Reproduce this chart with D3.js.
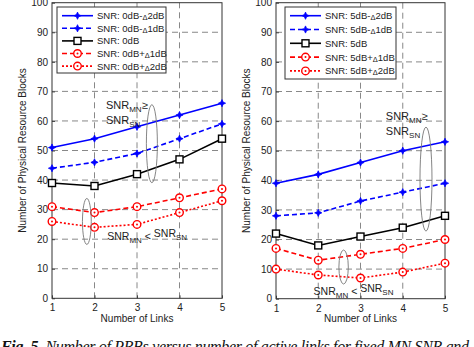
<!DOCTYPE html>
<html>
<head>
<meta charset="utf-8">
<script src="https://cdn.jsdelivr.net/npm/d3@7"></script>
<style>
  body { margin: 0; background: #fff; }
  svg { display: block; font-family: "Liberation Sans", Arial, sans-serif; }
</style>
</head>
<body>
<svg id="fig" width="474" height="347"></svg>
<script>
// number of links on the x axis
var links = [1, 2, 3, 4, 5];
var yTicks = [0, 10, 20, 30, 40, 50, 60, 70, 80, 90, 100];

// left panel: MN SNR fixed at 0 dB
var left_m2 = [51, 54, 58, 62, 66];
var left_m1 = [44, 46, 49, 54, 59];
var left_0  = [39, 38, 42, 47, 54];
var left_p1 = [31, 29, 31, 34, 37];
var left_p2 = [26, 24, 25, 29, 33];

// right panel: MN SNR fixed at 5 dB
var right_m2 = [39, 42, 46, 50, 53];
var right_m1 = [28, 29, 33, 36, 39];
var right_0  = [22, 18, 21, 24, 28];
var right_p1 = [17, 13, 15, 17, 20];
var right_p2 = [10, 8, 7, 9, 12];

var leftNames  = ["0dB-|2dB", "0dB-|1dB", "0dB", "0dB+|1dB", "0dB+|2dB"];
var rightNames = ["5dB-|2dB", "5dB-|1dB", "5dB", "5dB+|1dB", "5dB+|2dB"];

var styles = [
  { color: "#0000ff", dash: null,  marker: "star" },
  { color: "#0000ff", dash: "5,3", marker: "star" },
  { color: "#000000", dash: null,  marker: "square" },
  { color: "#ff0000", dash: "5,3", marker: "circle" },
  { color: "#ff0000", dash: "2,2", marker: "circle" }
];

var svg = d3.select("#fig");

function marker(g, type, x, y, color) {
  if (type === "star") {
    g.append("path")
      .attr("d", "M0,-3.6L1.1,-1.1L3.6,0L1.1,1.1L0,3.6L-1.1,1.1L-3.6,0L-1.1,-1.1Z")
      .attr("transform", "translate(" + x + "," + y + ")")
      .attr("fill", color).attr("stroke", color).attr("stroke-width", 0.8);
  } else if (type === "square") {
    g.append("rect")
      .attr("x", x - 3.5).attr("y", y - 3.5).attr("width", 7).attr("height", 7)
      .attr("fill", "#fff").attr("stroke", color).attr("stroke-width", 1.4);
  } else {
    g.append("circle").attr("cx", x).attr("cy", y).attr("r", 3.8)
      .attr("fill", "#fff").attr("stroke", color).attr("stroke-width", 1.4);
    g.append("circle").attr("cx", x).attr("cy", y).attr("r", 1)
      .attr("fill", color);
  }
}

// "SNR" with a subscript, optionally followed by another piece of text
function snrLabel(t, sub, after) {
  t.append("tspan").text("SNR");
  t.append("tspan").attr("dy", 3).attr("font-size", 8).text(sub);
  if (after) t.append("tspan").attr("dy", -3).text(after);
}

function drawPanel(cfg) {
  var g = svg.append("g");
  var x = d3.scaleLinear().domain([1, 5]).range([cfg.x0, cfg.x1]);
  var y = d3.scaleLinear().domain([0, 100]).range([cfg.yb, 2.7]);

  // grid
  g.selectAll(".gx").data(links.slice(1, -1)).enter().append("line")
    .attr("x1", d => x(d)).attr("x2", d => x(d))
    .attr("y1", y(0)).attr("y2", y(100))
    .attr("stroke", "#7a7a7a").attr("stroke-width", 0.9).attr("stroke-dasharray", "6,4");
  g.selectAll(".gy").data(yTicks.slice(1, -1)).enter().append("line")
    .attr("x1", x(1)).attr("x2", x(5))
    .attr("y1", d => y(d)).attr("y2", d => y(d))
    .attr("stroke", "#7a7a7a").attr("stroke-width", 0.9).attr("stroke-dasharray", "6,4");

  // axes with inward ticks
  g.append("g").attr("transform", "translate(0," + y(0) + ")")
    .call(d3.axisBottom(x).tickValues(links).tickSize(-3).tickPadding(6).tickFormat(d3.format("d")))
    .call(a => a.select(".domain").remove());
  g.append("g").attr("transform", "translate(" + x(1) + ",0)")
    .call(d3.axisLeft(y).tickValues(yTicks).tickSize(-3).tickPadding(4))
    .call(a => a.select(".domain").remove());
  g.selectAll(".tick text").attr("font-size", 10).attr("fill", "#222")
    .attr("font-family", "Liberation Sans, Arial, sans-serif");
  g.selectAll(".tick line").attr("stroke", "#444");

  g.append("rect")
    .attr("x", x(1)).attr("y", y(100))
    .attr("width", x(5) - x(1)).attr("height", y(0) - y(100))
    .attr("fill", "none").attr("stroke", "#333").attr("stroke-width", 1);

  // axis titles
  g.append("text").attr("x", (x(1) + x(5)) / 2).attr("y", 322)
    .attr("text-anchor", "middle").attr("font-size", 10).attr("fill", "#222")
    .text("Number of Links");
  g.append("text")
    .attr("transform", "translate(" + (cfg.x0 - 26) + "," + ((y(0) + y(100)) / 2) + ") rotate(-90)")
    .attr("text-anchor", "middle").attr("font-size", 10).attr("fill", "#222")
    .text("Number of Physical Resource Blocks");

  // series
  var line = d3.line().x((d, i) => x(links[i])).y(d => y(d));
  cfg.series.forEach(function (s, k) {
    var st = styles[k];
    g.append("path").datum(s).attr("d", line)
      .attr("fill", "none").attr("stroke", st.color).attr("stroke-width", 1.6)
      .attr("stroke-dasharray", st.dash);
    s.forEach((v, i) => marker(g, st.marker, x(links[i]), y(v), st.color));
  });

  // annotation ellipses and labels
  cfg.ellipses.forEach(function (e) {
    g.append("ellipse").attr("cx", x(e[0])).attr("cy", y(e[1]))
      .attr("rx", e[2]).attr("ry", e[3])
      .attr("fill", "none").attr("stroke", "#777").attr("stroke-width", 0.9);
  });
  var a = cfg.above;
  var t1 = g.append("text").attr("x", x(a[0])).attr("y", y(a[1])).attr("font-size", 11).attr("fill", "#222");
  snrLabel(t1, "MN", "\u2265");
  var t2 = g.append("text").attr("x", x(a[0])).attr("y", y(a[1]) + 15).attr("font-size", 11).attr("fill", "#222");
  snrLabel(t2, "SN");
  var b = cfg.below;
  var t3 = g.append("text").attr("x", x(b[0])).attr("y", y(b[1])).attr("font-size", 10.5).attr("fill", "#222");
  snrLabel(t3, "MN", " < ");
  snrLabel(t3.append("tspan").attr("dy", -3), "SN");

  // legend
  var L = cfg.legend;
  var lg = g.append("g");
  lg.append("rect").attr("x", L.x).attr("y", L.y).attr("width", L.w).attr("height", L.h)
    .attr("fill", "#fff").attr("stroke", "#333").attr("stroke-width", 1);
  cfg.names.forEach(function (n, k) {
    var st = styles[k];
    var yy = L.y + L.top + k * L.step;
    lg.append("line").attr("x1", L.x + 5).attr("x2", L.x + 36).attr("y1", yy).attr("y2", yy)
      .attr("stroke", st.color).attr("stroke-width", 1.6).attr("stroke-dasharray", st.dash);
    marker(lg, st.marker, L.x + 20.5, yy, st.color);
    var parts = n.split("|");
    var t = lg.append("text").attr("x", L.x + 40).attr("y", yy + 3.5)
      .attr("font-size", L.fs).attr("fill", "#222");
    t.append("tspan").text("SNR: " + parts[0]);
    if (parts.length > 1) {
      t.append("tspan").attr("font-size", L.fs - 2).attr("dy", 1).text("\u0394");
      t.append("tspan").attr("dy", -1).text(parts[1]);
    }
  });
}

drawPanel({
  x0: 52, x1: 222, yb: 298.3,
  series: [left_m2, left_m1, left_0, left_p1, left_p2],
  names: leftNames,
  ellipses: [[3.35, 52.3, 5.5, 39], [1.82, 26, 4.4, 23]],
  above: [2.27, 64.2],
  below: [2.3, 19.6],
  legend: { x: 57, y: 7, w: 109, h: 66, top: 8.7, step: 12.6, fs: 9.5 }
});

drawPanel({
  x0: 276, x1: 445, yb: 298.7,
  series: [right_m2, right_m1, right_0, right_p1, right_p2],
  names: rightNames,
  ellipses: [[4.55, 40.4, 6, 52], [2.6, 10.7, 4.7, 17]],
  above: [3.6, 60.4],
  below: [1.89, 1.3],
  legend: { x: 285, y: 7, w: 111, h: 72, top: 8.7, step: 13.8, fs: 9.5 }
});

// figure caption, running past the bottom edge
var cap = svg.append("text").attr("x", 1).attr("y", 352)
  .attr("font-family", "Liberation Serif, Times New Roman, serif")
  .attr("font-style", "italic").attr("font-size", 16).attr("fill", "#111")
  .attr("textLength", 468).attr("lengthAdjust", "spacing");
cap.append("tspan").attr("font-weight", "bold").text("Fig. 5.");
cap.append("tspan").text(" Number of PRBs versus number of active links for fixed MN SNR and");
</script>
</body>
</html>
